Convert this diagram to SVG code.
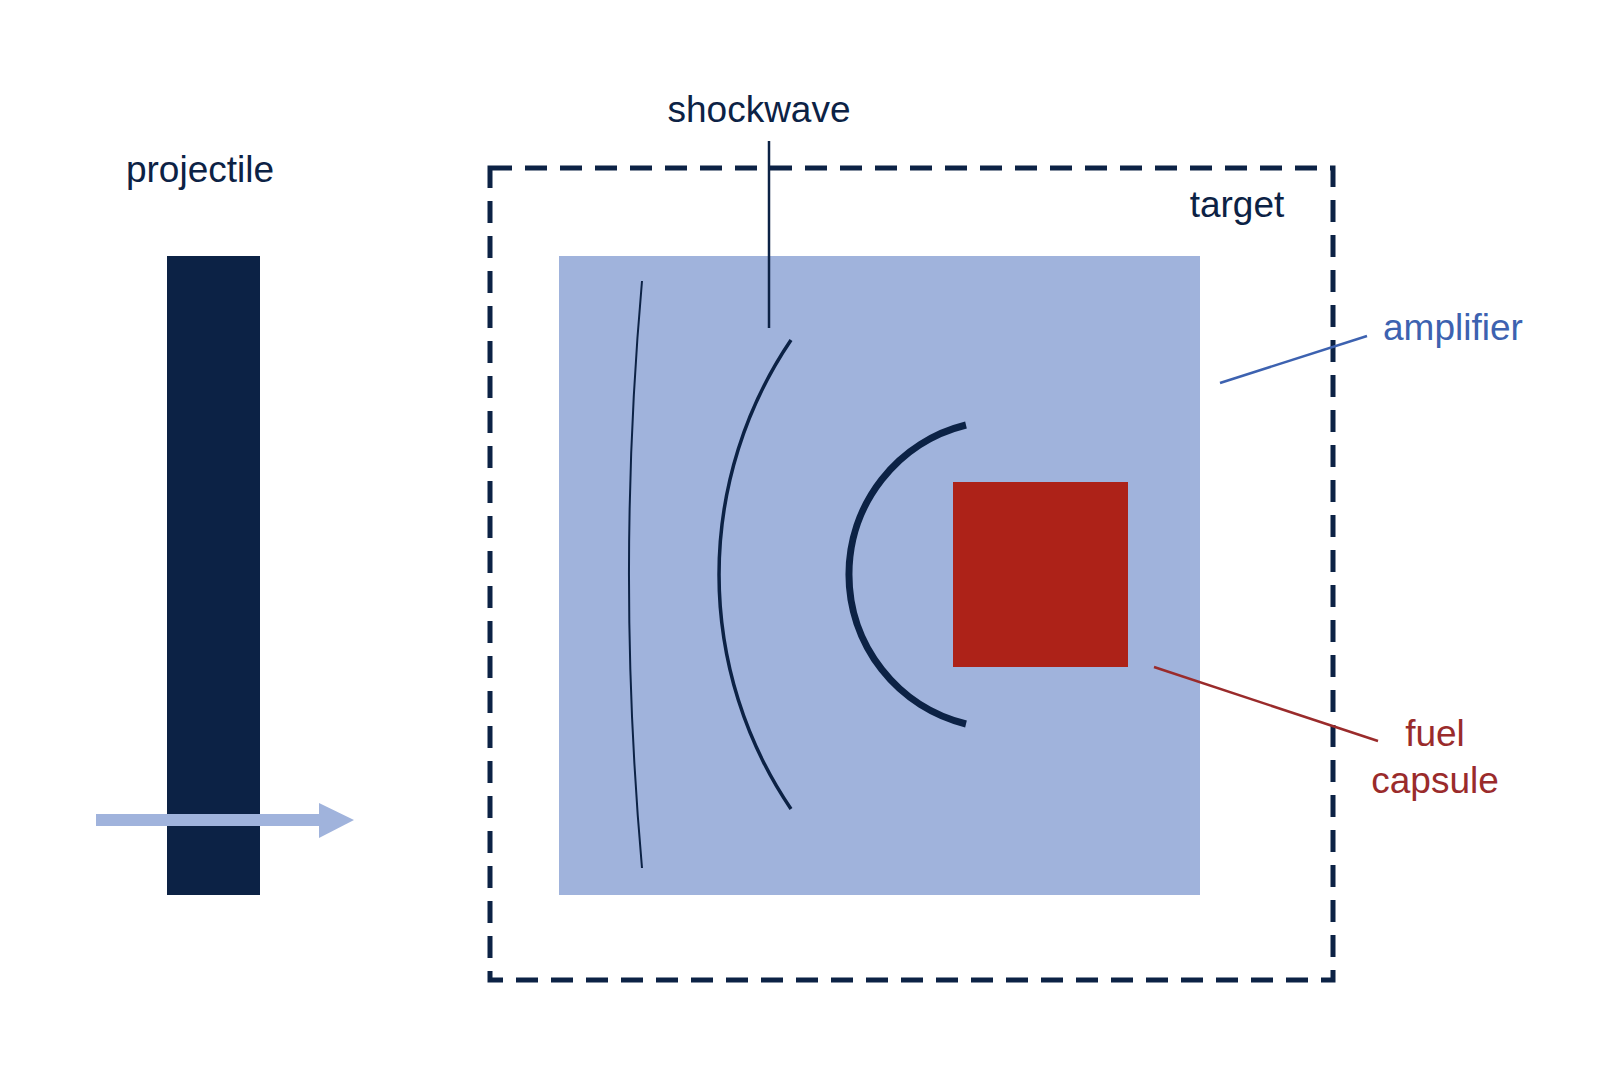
<svg xmlns="http://www.w3.org/2000/svg" width="1610" height="1082" viewBox="0 0 1610 1082">
<style>
text{font-family:"Liberation Sans",Arial,sans-serif;font-size:37px}
.dk{fill:#0c2245}
.arc{fill:none;stroke:#0c2245}
</style>
<rect width="1610" height="1082" fill="#fff"/>
<g id="target">
<rect x="490" y="168" width="843" height="812" fill="none" stroke="#0c2245" stroke-width="5" stroke-dasharray="22,13"/>
<text class="dk" x="1237" y="217" text-anchor="middle">target</text>
</g>
<g id="amplifier">
<rect x="559" y="256" width="641" height="639" fill="#a0b3dc"/>
<text x="1383" y="340" fill="#3d62b0">amplifier</text>
</g>
<g id="fuel-capsule">
<rect x="953" y="482" width="175" height="185" fill="#ad2218"/>
<text x="1435" y="746" fill="#9a2b2b" text-anchor="middle">fuel</text>
<text x="1435" y="793" fill="#9a2b2b" text-anchor="middle">capsule</text>
</g>
<g id="shockwave">
<path class="arc" stroke-width="2" d="M642,281 A3320,3320 0 0 0 642,868"/>
<path class="arc" stroke-width="3.5" d="M791,340 A418,418 0 0 0 791,809"/>
<path class="arc" stroke-width="7" d="M966,425 A154,154 0 0 0 966,724"/>
<text class="dk" x="759" y="122" text-anchor="middle">shockwave</text>
</g>
<g id="projectile">
<rect x="167" y="256" width="93" height="639" fill="#0c2245"/>
<text class="dk" x="200" y="182" text-anchor="middle">projectile</text>
</g>
<g id="connectors">
<path d="M96,820 H320" stroke="#a0b3dc" stroke-width="12"/>
<polygon points="319,803 354,820 319,838" fill="#a0b3dc"/>
<line x1="769" y1="141" x2="769" y2="328" stroke="#0c2245" stroke-width="2.5"/>
<line x1="1220" y1="383" x2="1367" y2="336" stroke="#3d62b0" stroke-width="2.5"/>
<line x1="1154" y1="667" x2="1378" y2="741" stroke="#9a2b2b" stroke-width="2.5"/>
</g>
</svg>
